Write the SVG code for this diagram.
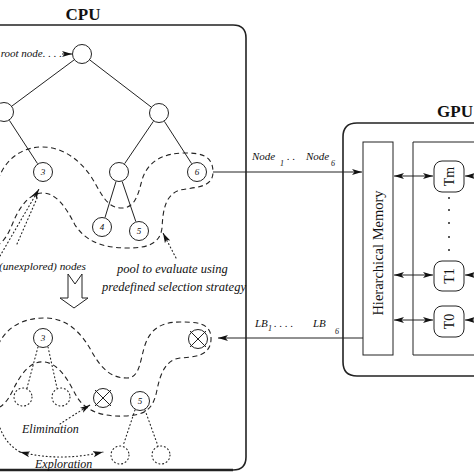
<svg xmlns="http://www.w3.org/2000/svg" width="474" height="474" viewBox="0 0 474 474">
<defs>
<marker id="arr" markerUnits="userSpaceOnUse" markerWidth="11" markerHeight="7" refX="10" refY="3.5" orient="auto-start-reverse">
<path d="M0,0.5 L10,3.5 L0,6.5 L2.5,3.5 z" fill="#111"/>
</marker>
</defs>
<style>
.ln{fill:none;stroke:#222;stroke-width:1}
.box{fill:none;stroke:#222;stroke-width:1.6}
.nd{fill:#fff;stroke:#222;stroke-width:1}
.dash{fill:none;stroke:#222;stroke-width:1.1;stroke-dasharray:5,3.5}
.dot{fill:none;stroke:#222;stroke-width:1.1;stroke-dasharray:1,2.8;stroke-linecap:round}
.it{font-family:"Liberation Serif",serif;font-style:italic;fill:#111}
.rm{font-family:"Liberation Serif",serif;fill:#111}
.bd{font-family:"Liberation Serif",serif;font-weight:bold;fill:#111;font-size:17px}
.num{font-family:"Liberation Serif",serif;font-style:italic;font-size:9px;fill:#111;text-anchor:middle}
.th{fill:#fff;stroke:#222;stroke-width:1}
</style>

<!-- containers -->
<g id="cpu">
<path class="box" d="M-5,25 H233 Q246,25 246,38 V457 Q246,470 233,470 H-5"/>
<path d="M-5,470 H233" stroke="#222" stroke-width="2.5" fill="none"/>
<text class="bd" x="83" y="20" text-anchor="middle">CPU</text>
</g>
<g id="gpu">
<path class="box" d="M480,123 H357 Q343,123 343,137 V362 Q343,376 357,376 H480"/>
<text class="bd" x="455" y="117" text-anchor="middle">GPU</text>
</g>
<g id="hier-memory">
<rect x="363" y="142" width="30" height="213" class="ln" fill="#fff"/>
<text class="rm" font-size="14.5" text-anchor="middle" transform="translate(383,253) rotate(-90)">Hierarchical Memory</text>
</g>
<g id="threads">
<path class="ln" d="M480,142 H413 V355 H480"/>
</g>
<g id="Tm">
<rect x="434" y="161" width="30" height="31" rx="8" class="th"/>
<text class="rm" font-size="14" text-anchor="middle" transform="translate(454,176.5) rotate(-90)">Tm</text>
</g>
<g id="T1">
<rect x="434" y="261" width="30" height="30" rx="8" class="th"/>
<text class="rm" font-size="14" text-anchor="middle" transform="translate(454,276) rotate(-90)">T1</text>
</g>
<g id="T0">
<rect x="434" y="306" width="30" height="31" rx="8" class="th"/>
<text class="rm" font-size="14" text-anchor="middle" transform="translate(454,321.5) rotate(-90)">T0</text>
</g>
<g id="thread-dots" fill="#222">
<circle cx="449" cy="198" r="1"/><circle cx="449" cy="210" r="1"/><circle cx="449" cy="223" r="1"/><circle cx="449" cy="237" r="1"/><circle cx="449" cy="250" r="1"/>
</g>

<!-- connectors -->
<g id="connectors">
<line class="ln" x1="74.4" y1="59.7" x2="11.6" y2="106.3"/>
<line class="ln" x1="89.6" y1="59.8" x2="151.4" y2="107.2"/>
<line class="ln" x1="9.4" y1="120.4" x2="37.5" y2="163.6"/>
<line class="ln" x1="153.4" y1="121.3" x2="124.6" y2="163.7"/>
<line class="ln" x1="164.4" y1="121.4" x2="191.6" y2="163.6"/>
<line class="ln" x1="116" y1="181.5" x2="105" y2="217.5"/>
<line class="ln" x1="122.2" y1="181.5" x2="135.8" y2="221.5"/>
<line class="ln" x1="213" y1="172" x2="362" y2="172" marker-end="url(#arr)"/>
<line class="ln" x1="363" y1="338" x2="218" y2="338" marker-end="url(#arr)"/>
<line class="ln" x1="394" y1="176" x2="433" y2="176" marker-start="url(#arr)" marker-end="url(#arr)"/>
<line class="ln" x1="394" y1="275" x2="433" y2="275" marker-start="url(#arr)" marker-end="url(#arr)"/>
<line class="ln" x1="394" y1="320" x2="433" y2="320" marker-start="url(#arr)" marker-end="url(#arr)"/>
<line class="ln" x1="480" y1="176" x2="465" y2="176" marker-end="url(#arr)"/>
<line class="ln" x1="480" y1="275" x2="465" y2="275" marker-end="url(#arr)"/>
<line class="ln" x1="480" y1="320" x2="465" y2="320" marker-end="url(#arr)"/>
<line class="ln" x1="62" y1="54" x2="72" y2="54" marker-end="url(#arr)"/>
<!-- pools -->
<path class="dash" d="M-2,180 C5,160 20,148 40,147 C60,146 78,158 90,175 C100,190 105,207 120,208 C135,209 138,195 142,180 C148,160 165,153 185,153 C200,153 213,155 213,172 C213,188 195,187 180,190 C165,195 163,210 162,228 C160,245 145,248 128,248 C100,248 85,240 75,225 C65,205 55,193 43,193 C30,193 20,205 12,225 C8,235 3,242 -2,245"/>
<path class="dash" d="M-2,345 C8,325 25,318 45,318 C65,318 80,330 92,352 C102,370 112,378 127,378 C140,378 140,360 145,345 C150,330 160,322 180,322 C195,322 212,322 211,340 C210,356 195,357 180,358 C165,360 160,375 157,390 C153,410 145,415 125,416 C100,417 85,410 77,397 C70,385 62,365 45,362 C30,360 20,375 12,392 C8,400 4,405 -2,408"/>
<!-- dotted pointers -->
<line class="dot" x1="0" y1="256" x2="39" y2="189" marker-end="url(#arr)"/>
<line class="dot" x1="17" y1="244" x2="38" y2="196"/>
<line class="dot" x1="176" y1="258" x2="163" y2="233" marker-end="url(#arr)"/>
<path class="dot" d="M60,424 Q72,416 90,405" marker-end="url(#arr)"/>
<path class="dot" d="M20,452 Q60,462 103,452" marker-start="url(#arr)" marker-end="url(#arr)"/>
<path class="dot" d="M0,428 Q6,444 20,452"/>
<!-- dotted subtrees -->
<line class="dot" x1="38" y1="347" x2="27" y2="388"/>
<line class="dot" x1="48" y1="347" x2="57" y2="388"/>
<circle class="dot" cx="23" cy="397" r="9"/>
<circle class="dot" cx="61" cy="397" r="9"/>
<line class="dot" x1="135" y1="410" x2="123" y2="446"/>
<line class="dot" x1="145" y1="410" x2="158" y2="446"/>
<circle class="dot" cx="120" cy="455" r="9"/>
<circle class="dot" cx="161" cy="455" r="9"/>
</g>

<!-- nodes -->
<g id="root"><circle class="nd" cx="82" cy="54" r="9.5"/></g>
<g id="left-child"><circle class="nd" cx="4" cy="112" r="9.5"/></g>
<g id="right-child"><circle class="nd" cx="159" cy="113" r="9.5"/></g>
<g id="node3"><circle class="nd" cx="43" cy="172" r="9.5"/><text class="num" x="43" y="175">3</text></g>
<g id="node-mid"><circle class="nd" cx="119" cy="172" r="9.5"/></g>
<g id="node6"><circle class="nd" cx="197" cy="172" r="9.5"/><text class="num" x="197" y="175">6</text></g>
<g id="node4"><circle class="nd" cx="102" cy="227" r="9.5"/><text class="num" x="102" y="230">4</text></g>
<g id="node5"><circle class="nd" cx="139" cy="231" r="9.5"/><text class="num" x="139" y="234">5</text></g>
<g id="node3b"><circle class="nd" cx="43" cy="338" r="9.5"/><text class="num" x="43" y="341">3</text></g>
<g id="node5b"><circle class="nd" cx="140" cy="401" r="9.5"/><text class="num" x="140" y="404">5</text></g>
<g id="node6x"><circle class="nd" cx="198" cy="339" r="9.5"/><path class="ln" d="M190,331 L206,347 M206,331 L190,347"/></g>
<g id="node4x"><circle class="nd" cx="103" cy="398" r="9.5"/><path class="ln" d="M95,390 L111,406 M111,390 L95,406"/></g>

<!-- down arrow -->
<g id="big-arrow">
<path class="ln" d="M68,274 L75,284 L82,274 V298 H88 L74,308 L60,298 H68 Z" fill="#fff"/>
</g>

<!-- labels -->
<g id="labels">
<text class="it" font-size="11" x="62" y="57" text-anchor="end">root node. . . .</text>
<text class="it" font-size="11.3" x="86" y="270" text-anchor="end">(unexplored) nodes</text>
<text class="it" font-size="12.5" x="117" y="273">pool to evaluate using</text>
<text class="it" font-size="12.5" x="102" y="291">predefined selection strategy</text>
<text class="it" font-size="12" x="22" y="433">Elimination</text>
<text class="it" font-size="12" x="35" y="468">Exploration</text>
<text class="it" font-size="11" x="252" y="160">Node</text>
<text class="it" font-size="8" x="280" y="166">1</text>
<text class="it" font-size="11" x="287" y="160">. .</text>
<text class="it" font-size="11" x="306" y="160">Node</text>
<text class="it" font-size="8" x="331" y="166">6</text>
<text class="it" font-size="11" x="255" y="327">LB</text>
<text class="it" font-size="8" x="268" y="331">1</text>
<text class="it" font-size="11" x="274" y="327">. . . .</text>
<text class="it" font-size="11" x="313" y="327">LB</text>
<text class="it" font-size="8" x="335" y="334">6</text>
</g>
</svg>
